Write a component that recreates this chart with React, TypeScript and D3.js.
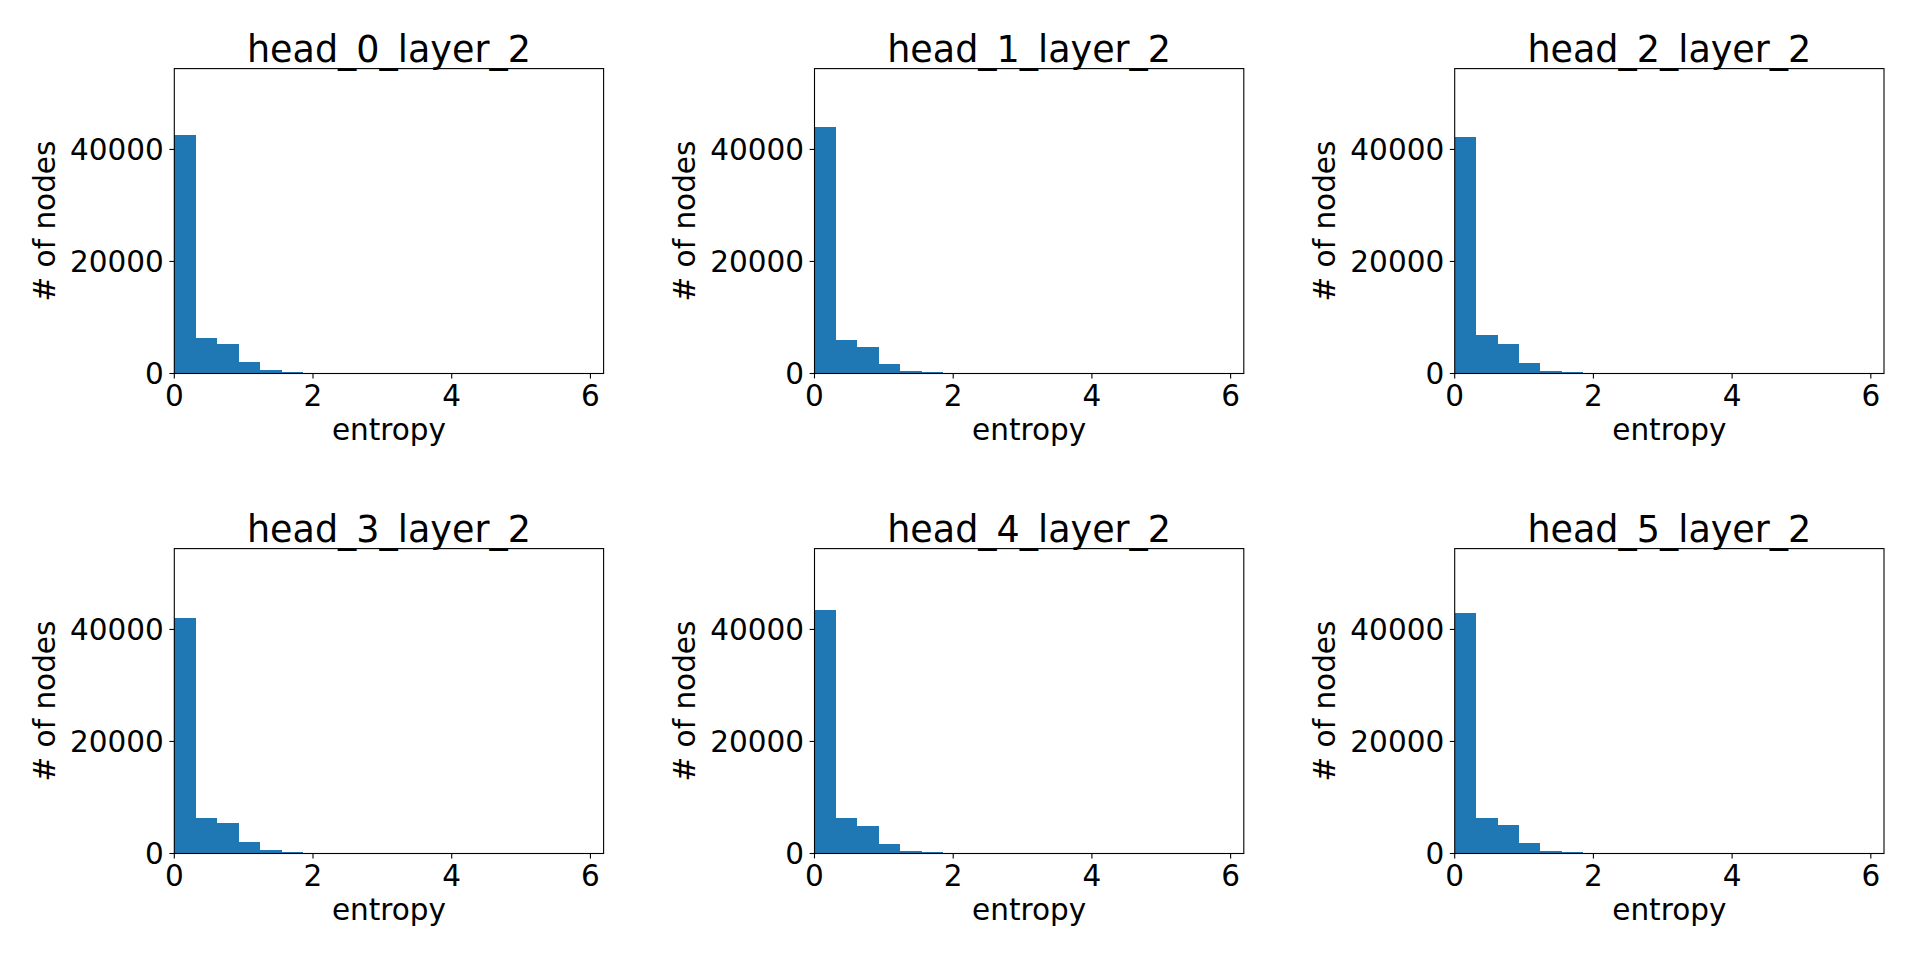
import React from "react";
import * as d3 from "d3";

const titles = [
  "head_0_layer_2",
  "head_1_layer_2",
  "head_2_layer_2",
  "head_3_layer_2",
  "head_4_layer_2",
  "head_5_layer_2",
];

// 20 histogram bins between 0 and binMax
const binMax = 6.184;
const binCount = 20;

const head0 = [42620, 6370, 5240, 2020, 650, 220, 30, 8, 2, 0, 0, 0, 0, 0, 0, 0, 0, 0, 0, 0];
const head1 = [43990, 6010, 4700, 1670, 420, 190, 25, 6, 1, 0, 0, 0, 0, 0, 0, 0, 0, 0, 0, 0];
const head2 = [42200, 6850, 5240, 1850, 480, 200, 25, 6, 1, 0, 0, 0, 0, 0, 0, 0, 0, 0, 0, 0];
const head3 = [42020, 6370, 5420, 2020, 650, 220, 30, 8, 2, 0, 0, 0, 0, 0, 0, 0, 0, 0, 0, 0];
const head4 = [43450, 6370, 4880, 1670, 480, 190, 25, 6, 1, 0, 0, 0, 0, 0, 0, 0, 0, 0, 0, 0];
const head5 = [42920, 6370, 5060, 1850, 480, 200, 25, 6, 1, 0, 0, 0, 0, 0, 0, 0, 0, 0, 0, 0];
const series = [head0, head1, head2, head3, head4, head5];

const xTicks = [0, 2, 4, 6];
const yTicks = [0, 20000, 40000];
const xDomain = [0, 6.19];
const yDomain = [0, 54430];

const xLabel = "entropy";
const yLabel = "# of nodes";

const W = 1920;
const H = 960;
const axLeft = 174.3;
const axTop = 68.6;
const axW = 429.3;
const axH = 304.9;
const colStep = 640.2;
const rowStep = 480;
const FONT = "DejaVu Sans, sans-serif";
const BLUE = "#1f77b4";

function Panel({ idx }: { idx: number }) {
  const col = idx % 3;
  const row = Math.floor(idx / 3);
  const x0 = axLeft + col * colStep;
  const y0 = axTop + row * rowStep;
  const x = d3.scaleLinear().domain(xDomain).range([0, axW]);
  const y = d3.scaleLinear().domain(yDomain).range([axH, 0]);
  const edges = d3.range(binCount + 1).map((i) => (i * binMax) / binCount);
  const counts = series[idx];
  return (
    <g transform={`translate(${x0},${y0})`}>
      <g shapeRendering="crispEdges">
        {counts.map((c, i) => (
          <rect
            key={i}
            x={x(edges[i])}
            width={x(edges[i + 1]) - x(edges[i])}
            y={y(c)}
            height={axH - y(c)}
            fill={BLUE}
          />
        ))}
      </g>
      <rect x={0} y={0} width={axW} height={axH} fill="none" stroke="#000" strokeWidth={1.1} />
      {xTicks.map((t) => (
        <g key={t} transform={`translate(${x(t)},${axH})`}>
          <line y1={0} y2={4.9} stroke="#000" strokeWidth={1.1} />
          <text y={32} textAnchor="middle" fontSize={29.5} fontFamily={FONT} fill="#000">
            {t}
          </text>
        </g>
      ))}
      {yTicks.map((t) => (
        <g key={t} transform={`translate(0,${y(t)})`}>
          <line x1={0} x2={-4.9} stroke="#000" strokeWidth={1.1} />
          <text x={-10.5} dy="0.36em" textAnchor="end" fontSize={29.5} fontFamily={FONT} fill="#000">
            {t}
          </text>
        </g>
      ))}
      <text
        x={axW / 2}
        y={axH + 67}
        textAnchor="middle"
        fontSize={29.5}
        fontFamily={FONT}
        fill="#000"
      >
        {xLabel}
      </text>
      <text
        transform={`translate(${55 - axLeft},${axH / 2}) rotate(-90)`}
        textAnchor="middle"
        fontSize={29.5}
        fontFamily={FONT}
        fill="#000"
      >
        {yLabel}
      </text>
      <text x={axW / 2} y={-6.5} textAnchor="middle" fontSize={36.5} fontFamily={FONT} fill="#000">
        {titles[idx]}
      </text>
    </g>
  );
}

export default function App() {
  return (
    <svg
      width={W}
      height={H}
      viewBox={`0 0 ${W} ${H}`}
      style={{ position: "absolute", left: 0, top: 0, background: "#fff" }}
    >
      <rect width={W} height={H} fill="#fff" />
      {titles.map((_, i) => (
        <Panel key={i} idx={i} />
      ))}
    </svg>
  );
}
